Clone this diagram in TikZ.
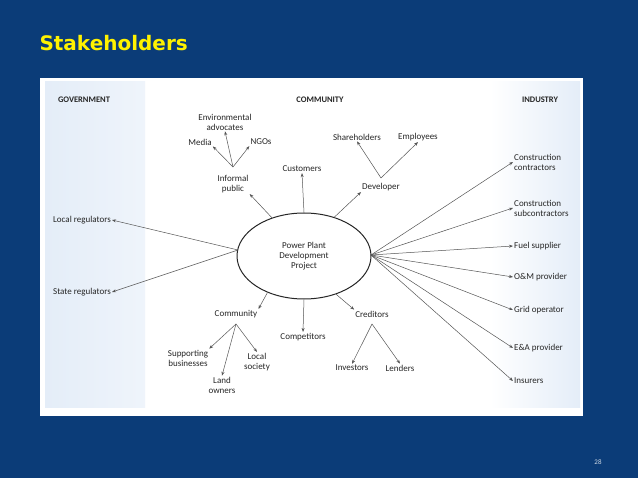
\documentclass[tikz,border=0pt]{standalone}
\usepackage{fontspec}
\setmainfont{Carlito}
\newfontfamily\titlefont{DejaVu Sans}
\usetikzlibrary{arrows.meta,shapes.geometric}
\definecolor{bg}{HTML}{0B3C78}
\definecolor{colbg}{HTML}{E4EDF8}
\definecolor{ln}{HTML}{555555}
\begin{document}
\begin{tikzpicture}[x=1pt,y=-1pt,
  lbl/.style={font=\fontsize{9}{10}\selectfont,text=black!85,align=center,inner sep=1pt},
  lft/.style={lbl,anchor=west,align=left},
  hdr/.style={font=\bfseries\fontsize{8.5}{10}\selectfont,text=black!85},
  arr/.style={draw=ln,line width=0.5pt,-{Stealth[length=4pt,width=3pt]}}]
\fill[bg] (0,0) rectangle (638,478);
\useasboundingbox (0,0) rectangle (638,478);
\node[anchor=west,font=\titlefont\bfseries\fontsize{20}{22}\selectfont,text=yellow] (title) at (36,43) {Stakeholders};
\fill[white] (40,78) rectangle (583,416);
\shade[left color=colbg,right color=colbg!60] (45,82) rectangle (145,408);
\shade[left color=white,right color=colbg] (490,82) rectangle (580,408);
\node[hdr] (gov) at (84,100) {GOVERNMENT};
\node[hdr] (com) at (320,100) {COMMUNITY};
\node[hdr] (ind) at (540,100) {INDUSTRY};
\node[draw=black!85,line width=1pt,ellipse,minimum width=134pt,minimum height=86pt,lbl] (pp) at (304,256) {Power Plant\\Development\\Project};
\node[lbl] (env) at (225,122) {Environmental\\advocates};
\node[lbl] (media) at (200,142) {Media};
\node[lbl] (ngo) at (261,142) {NGOs};
\node[lbl] (inf) at (233,184) {Informal\\public};
\node[lbl] (cust) at (302,169) {Customers};
\node[lbl] (sh) at (357,137) {Shareholders};
\node[lbl] (emp) at (418,137) {Employees};
\node[lbl] (dev) at (381,187) {Developer};
\node[lft] (locreg) at (52,220) {Local regulators};
\node[lft] (streg) at (52,292) {State regulators};
\node[lft] (cc) at (513,162) {Construction\\contractors};
\node[lft] (cs) at (513,208) {Construction\\subcontractors};
\node[lft] (fuel) at (513,246) {Fuel supplier};
\node[lft] (om) at (513,277) {O\&M provider};
\node[lft] (grid) at (513,310) {Grid operator};
\node[lft] (ea) at (513,348) {E\&A provider};
\node[lft] (ins) at (513,381) {Insurers};
\node[lbl] (comm) at (236,314) {Community};
\node[lbl] (compet) at (303,337) {Competitors};
\node[lbl] (cred) at (372,314) {Creditors};
\node[lbl] (supp) at (188,358) {Supporting\\businesses};
\node[lbl] (land) at (222,385) {Land\\owners};
\node[lbl] (locs) at (257,362) {Local\\society};
\node[lbl] (inv) at (352,368) {Investors};
\node[lbl] (len) at (400,368) {Lenders};
\node[font=\fontsize{7}{8}\selectfont,text=white!80!bg] (pg) at (598,462) {28};
\coordinate (ir) at (371,255);
\coordinate (il) at (238,250);
\coordinate (bi) at (233,167);
\coordinate (bd) at (381,178);
\coordinate (bc) at (236,324);
\coordinate (bk) at (372,324);
\foreach \t in {cc,cs,fuel,om,grid,ea,ins} \draw[arr] (ir) -- (\t.west);
\draw[arr] (il) -- (locreg.east);
\draw[arr] (il) -- (streg.east);
\draw[arr] (pp.130) -- (inf.south east);
\draw[arr] (pp.north) -- (cust.south);
\draw[arr] (pp.52) -- (dev.south west);
\draw[arr] (pp.225) -- (comm.north east);
\draw[arr] (pp.south) -- (compet.north);
\draw[arr] (pp.310) -- (cred.north west);
\draw[arr] (bi) -- (media.south east);
\draw[arr] (bi) -- (env.south);
\draw[arr] (bi) -- (ngo.south west);
\draw[arr] (bd) -- (sh.south);
\draw[arr] (bd) -- (emp.south);
\draw[arr] (bc) -- (supp.north east);
\draw[arr] (bc) -- (land.north);
\draw[arr] (bc) -- (locs.north);
\draw[arr] (bk) -- (inv.north);
\draw[arr] (bk) -- (len.north);
\end{tikzpicture}
\end{document}
